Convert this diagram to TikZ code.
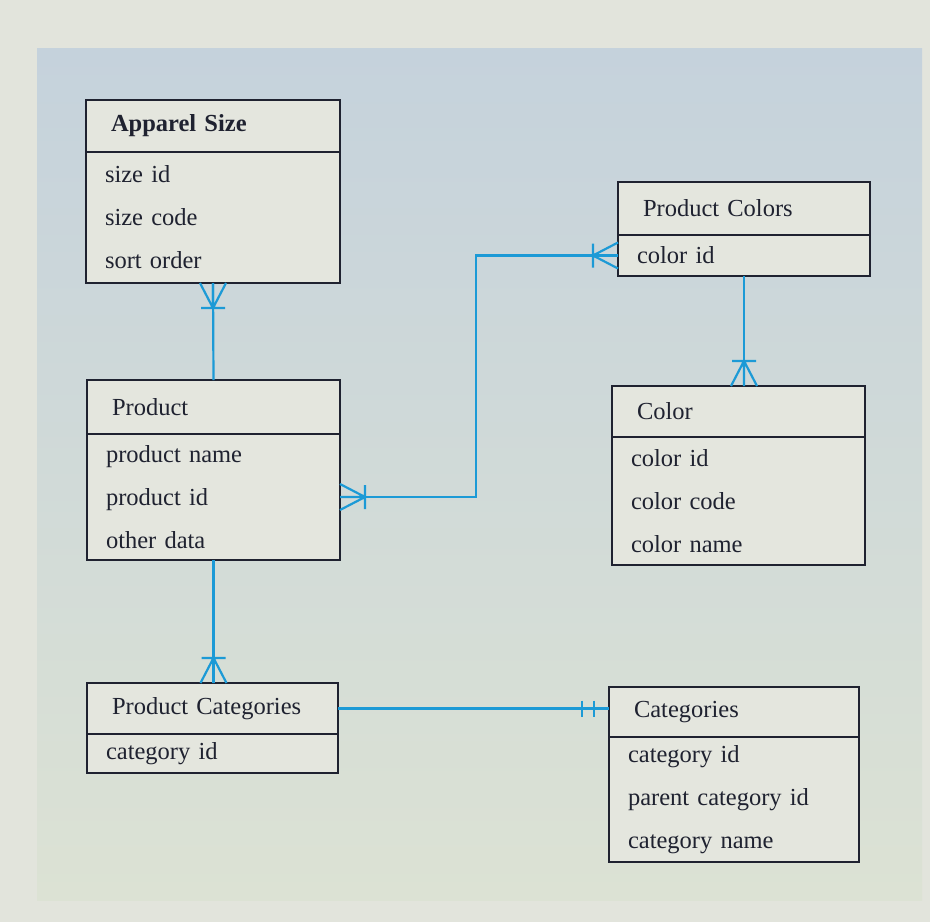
\documentclass[tikz,border=0pt]{standalone}
\usepackage{fontspec}
\setmainfont[WordSpace=0.85]{Liberation Serif}
\usepackage{xcolor}
\usepackage{tikz}
\usetikzlibrary{positioning, calc}
\definecolor{screenwall}{HTML}{E2E4DC}
\definecolor{paneltop}{HTML}{C5D2DC}
\definecolor{panelbottom}{HTML}{DCE2D4}
\definecolor{boxfill}{HTML}{E4E6DE}
\definecolor{inkdark}{HTML}{1F2230}
\definecolor{relblue}{HTML}{1C9AD6}
\tikzset{
  ttl/.style={draw=inkdark, fill=boxfill, line width=2.2pt, outer sep=0pt, anchor=north west,
              inner xsep=25pt, align=left, text=inkdark, font=\fontsize{24.5}{28}\selectfont},
  body/.style={draw=inkdark, fill=boxfill, line width=2.2pt, outer sep=0pt, anchor=north west,
               inner xsep=19pt, align=left, text=inkdark, font=\fontsize{24.5}{43}\selectfont},
  rel/.style={draw=relblue, line width=2.2pt},
  crowfoot/.pic={\draw[rel] (-13,0) -- (0,25) -- (13,0) (0,0) -- (0,25) (-12,25) -- (12,25);},
  onlyone/.pic={\draw[rel] (-8,15) -- (8,15) (-8,27) -- (8,27);},
}

\begin{document}
\begin{tikzpicture}[x=1pt, y=-1pt]
  \useasboundingbox (0,0) rectangle (930,922);
  % screen and panel behind the diagram
  \fill[screenwall] (0,0) rectangle (930,922);
  \fill[top color=paneltop, bottom color=panelbottom] (37,48) rectangle (922,900);
  % left column
  \node[ttl, text width=204pt, minimum height=52pt] (as) at (86,100) {\bfseries Apparel Size};
  \node[body, text width=216pt, minimum height=131pt] (as-b) at (as.south west) {size id\\size code\\sort order};
  \node[ttl, text width=203pt, minimum height=54pt] (pr) at (87,380) {Product};
  \node[body, text width=215pt, minimum height=126pt] (pr-b) at (pr.south west) {product name\\product id\\other data};
  \node[ttl, text width=201pt, minimum height=51pt] (pcat) at (87,683) {Product Categories};
  \node[body, text width=213pt, minimum height=39pt] (pcat-b) at (pcat.south west) {category id};
  % right column
  \node[ttl, text width=202pt, minimum height=53pt] (pc) at (618,182) {Product Colors};
  \node[body, text width=214pt, minimum height=41pt] (pc-b) at (pc.south west) {color id};
  \node[ttl, text width=203pt, minimum height=51pt] (co) at (612,386) {Color};
  \node[body, text width=215pt, minimum height=128pt] (co-b) at (co.south west) {color id\\color code\\color name};
  \node[ttl, text width=200pt, minimum height=50pt] (cat) at (609,687) {Categories};
  \node[body, text width=212pt, minimum height=125pt] (cat-b) at (cat.south west) {category id\\parent category id\\category name};
  % relationships
  \draw[rel] (as-b.south) -- (pr.north);
  \pic at (as-b.south) {crowfoot};
  \draw[rel] (pr-b.east) -- ++(136,0) |- (pc-b.west);
  \pic[rotate=90] at (pr-b.east) {crowfoot};
  \pic[rotate=-90] at (pc-b.west) {crowfoot};
  \draw[rel] (pc-b.south) -- (pc-b.south |- co.north);
  \pic[rotate=180] at (pc-b.south |- co.north) {crowfoot};
  \draw[rel] (pr-b.south) -- (pr-b.south |- pcat.north);
  \pic[rotate=180] at (pr-b.south |- pcat.north) {crowfoot};
  \draw[rel] (pcat.east) -- (pcat.east -| cat.west);
  \pic[rotate=-90] at (pcat.east -| cat.west) {onlyone};
\end{tikzpicture}
\end{document}
